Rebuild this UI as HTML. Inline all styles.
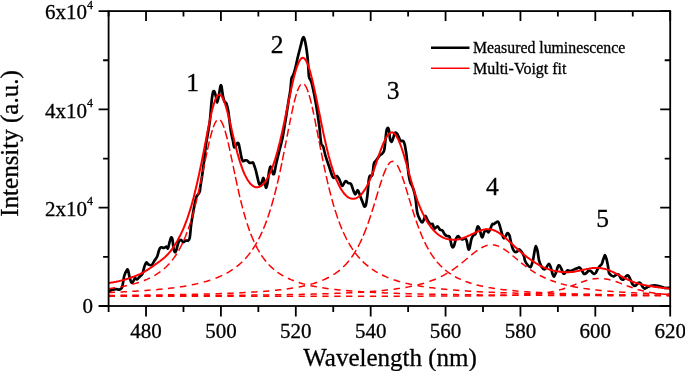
<!DOCTYPE html>
<html><head><meta charset="utf-8"><style>
html,body{margin:0;padding:0;background:#fff;}
svg{display:block;}
text{font-family:"Liberation Serif","Times New Roman",serif;fill:#000;stroke:#000;stroke-width:0.3px;}
.tl{font-size:21px;}
.sup{font-size:12px;}
.at{font-size:25px;}
.pk{font-size:25.5px;}
.lg{font-size:16px;}
</style></head><body>
<svg width="685" height="371" viewBox="0 0 685 371">
<rect width="685" height="371" fill="#fff"/>
<defs><clipPath id="c"><rect x="108.60" y="11.10" width="561.60" height="294.90"/></clipPath></defs>
<g clip-path="url(#c)">
<path d="M108.60,291.60 C108.83,291.47 109.35,291.10 110.00,290.80 C110.65,290.50 111.48,290.07 112.50,289.80 C113.52,289.53 114.93,289.23 116.10,289.20 C117.27,289.17 118.60,289.77 119.50,289.60 C120.40,289.43 120.98,288.90 121.50,288.20 C122.02,287.50 122.15,287.43 122.60,285.40 C123.05,283.37 123.48,278.57 124.20,276.00 C124.92,273.43 126.23,270.90 126.90,270.00 C127.57,269.10 127.75,269.38 128.20,270.60 C128.65,271.82 129.03,275.28 129.60,277.30 C130.17,279.32 130.93,282.13 131.60,282.70 C132.27,283.27 133.03,281.48 133.60,280.70 C134.17,279.92 134.43,278.22 135.00,278.00 C135.57,277.78 136.22,279.62 137.00,279.40 C137.78,279.18 138.80,277.60 139.70,276.70 C140.60,275.80 141.62,275.68 142.40,274.00 C143.18,272.32 143.73,268.52 144.40,266.60 C145.07,264.68 145.73,262.85 146.40,262.50 C147.07,262.15 147.50,264.08 148.40,264.50 C149.30,264.92 150.78,265.67 151.80,265.00 C152.82,264.33 153.60,261.92 154.50,260.50 C155.40,259.08 156.45,258.20 157.20,256.50 C157.95,254.80 158.42,251.82 159.00,250.30 C159.58,248.78 159.88,247.80 160.70,247.40 C161.52,247.00 162.97,248.02 163.90,247.90 C164.83,247.78 165.63,246.62 166.30,246.70 C166.97,246.78 167.35,249.15 167.90,248.40 C168.45,247.65 169.05,244.03 169.60,242.20 C170.15,240.37 170.72,237.80 171.20,237.40 C171.68,237.00 172.10,237.92 172.50,239.80 C172.90,241.68 173.23,246.68 173.60,248.70 C173.97,250.72 174.30,251.50 174.70,251.90 C175.10,252.30 175.37,252.72 176.00,251.10 C176.63,249.48 177.68,244.08 178.50,242.20 C179.32,240.32 180.10,239.80 180.90,239.80 C181.70,239.80 182.50,242.07 183.30,242.20 C184.10,242.33 184.88,240.87 185.70,240.60 C186.52,240.33 187.52,241.13 188.20,240.60 C188.88,240.07 189.32,240.00 189.80,237.40 C190.28,234.80 190.55,229.12 191.10,225.00 C191.65,220.88 192.43,216.53 193.10,212.70 C193.77,208.87 194.53,204.68 195.10,202.00 C195.67,199.32 195.93,197.95 196.50,196.60 C197.07,195.25 197.95,194.80 198.50,193.90 C199.05,193.00 199.47,192.55 199.80,191.20 C200.13,189.85 200.20,187.83 200.50,185.80 C200.80,183.77 201.20,181.60 201.60,179.00 C202.00,176.40 202.37,174.18 202.90,170.20 C203.43,166.22 204.27,159.50 204.80,155.10 C205.33,150.70 205.28,149.28 206.10,143.80 C206.92,138.32 208.78,129.27 209.70,122.20 C210.62,115.13 211.03,106.43 211.60,101.40 C212.17,96.37 212.60,93.57 213.10,92.00 C213.60,90.43 214.13,91.22 214.60,92.00 C215.07,92.78 215.47,94.97 215.90,96.70 C216.33,98.43 216.72,102.55 217.20,102.40 C217.68,102.25 218.27,98.47 218.80,95.80 C219.33,93.13 219.95,87.97 220.40,86.40 C220.85,84.83 221.08,84.83 221.50,86.40 C221.92,87.97 222.42,93.30 222.90,95.80 C223.38,98.30 223.83,100.15 224.40,101.40 C224.97,102.65 225.67,101.73 226.30,103.30 C226.93,104.87 227.45,106.22 228.20,110.80 C228.95,115.38 230.03,125.90 230.80,130.80 C231.57,135.70 232.25,137.50 232.80,140.20 C233.35,142.90 233.65,145.98 234.10,147.00 C234.55,148.02 234.93,146.98 235.50,146.30 C236.07,145.62 236.95,143.23 237.50,142.90 C238.05,142.57 238.35,142.95 238.80,144.30 C239.25,145.65 239.75,148.77 240.20,151.00 C240.65,153.23 241.05,156.02 241.50,157.70 C241.95,159.38 242.33,160.65 242.90,161.10 C243.47,161.55 244.23,160.52 244.90,160.40 C245.57,160.28 246.22,160.05 246.90,160.40 C247.58,160.75 248.32,162.08 249.00,162.50 C249.68,162.92 250.33,162.90 251.00,162.90 C251.67,162.90 252.45,162.02 253.00,162.50 C253.55,162.98 253.85,164.55 254.30,165.80 C254.75,167.05 255.12,167.83 255.70,170.00 C256.28,172.17 257.18,176.38 257.80,178.80 C258.42,181.22 258.73,183.95 259.40,184.50 C260.07,185.05 261.12,183.18 261.80,182.10 C262.48,181.02 262.95,177.60 263.50,178.00 C264.05,178.40 264.65,182.88 265.10,184.50 C265.55,186.12 265.80,187.97 266.20,187.70 C266.60,187.43 267.02,185.58 267.50,182.90 C267.98,180.22 268.62,174.30 269.10,171.60 C269.58,168.90 269.98,167.12 270.40,166.70 C270.82,166.28 271.13,167.88 271.60,169.10 C272.07,170.32 272.72,173.45 273.20,174.00 C273.68,174.55 273.97,174.28 274.50,172.40 C275.03,170.52 275.68,165.95 276.40,162.70 C277.12,159.45 277.98,156.15 278.80,152.90 C279.62,149.65 280.58,146.18 281.30,143.20 C282.02,140.22 282.40,138.78 283.10,135.00 C283.80,131.22 284.55,126.43 285.50,120.50 C286.45,114.57 287.98,104.48 288.80,99.40 C289.62,94.32 289.95,93.48 290.40,90.00 C290.85,86.52 291.05,80.95 291.50,78.50 C291.95,76.05 292.48,76.92 293.10,75.30 C293.72,73.68 294.43,71.77 295.20,68.80 C295.97,65.83 296.80,61.27 297.70,57.50 C298.60,53.73 299.82,49.28 300.60,46.20 C301.38,43.12 301.92,40.50 302.40,39.00 C302.88,37.50 303.13,37.15 303.50,37.20 C303.87,37.25 304.18,37.83 304.60,39.30 C305.02,40.77 305.53,43.23 306.00,46.00 C306.47,48.77 307.03,52.63 307.40,55.90 C307.77,59.17 307.93,62.10 308.20,65.60 C308.47,69.10 308.60,74.47 309.00,76.90 C309.40,79.33 310.07,78.85 310.60,80.20 C311.13,81.55 311.27,80.83 312.20,85.00 C313.13,89.17 315.03,98.47 316.20,105.20 C317.37,111.93 318.37,119.00 319.20,125.40 C320.03,131.80 320.53,140.07 321.20,143.60 C321.87,147.13 322.48,144.57 323.20,146.60 C323.92,148.63 324.48,152.38 325.50,155.80 C326.52,159.22 328.03,163.48 329.30,167.10 C330.57,170.72 331.83,176.00 333.10,177.50 C334.37,179.00 335.80,175.63 336.90,176.10 C338.00,176.57 338.82,178.67 339.70,180.30 C340.58,181.93 341.25,185.75 342.20,185.90 C343.15,186.05 344.40,181.67 345.40,181.20 C346.40,180.73 347.27,182.62 348.20,183.10 C349.13,183.58 350.07,182.68 351.00,184.10 C351.93,185.52 353.07,189.90 353.80,191.60 C354.53,193.30 354.73,194.53 355.40,194.30 C356.07,194.07 357.00,189.93 357.80,190.20 C358.60,190.47 359.38,193.87 360.20,195.90 C361.02,197.93 362.02,200.65 362.70,202.40 C363.38,204.15 363.77,206.00 364.30,206.40 C364.83,206.80 365.37,206.82 365.90,204.80 C366.43,202.78 367.02,198.48 367.50,194.30 C367.98,190.12 368.40,182.80 368.80,179.70 C369.20,176.60 369.30,176.50 369.90,175.70 C370.50,174.90 371.73,176.93 372.40,174.90 C373.07,172.87 373.25,165.93 373.90,163.50 C374.55,161.07 375.35,161.63 376.30,160.30 C377.25,158.97 378.65,156.58 379.60,155.50 C380.55,154.42 381.25,154.62 382.00,153.80 C382.75,152.98 383.57,152.48 384.10,150.60 C384.63,148.72 384.82,145.73 385.20,142.50 C385.58,139.27 385.98,133.62 386.40,131.20 C386.82,128.78 387.27,128.13 387.70,128.00 C388.13,127.87 388.60,128.52 389.00,130.40 C389.40,132.28 389.65,137.42 390.10,139.30 C390.55,141.18 391.17,141.97 391.70,141.70 C392.23,141.43 392.77,139.18 393.30,137.70 C393.83,136.22 394.28,133.48 394.90,132.80 C395.52,132.12 396.32,132.78 397.00,133.60 C397.68,134.42 398.40,136.48 399.00,137.70 C399.60,138.92 399.93,140.37 400.60,140.90 C401.27,141.43 402.33,140.37 403.00,140.90 C403.67,141.43 404.05,141.95 404.60,144.10 C405.15,146.25 405.83,150.57 406.30,153.80 C406.77,157.03 407.00,159.97 407.40,163.50 C407.80,167.03 408.22,171.85 408.70,175.00 C409.18,178.15 409.63,180.37 410.30,182.40 C410.97,184.43 412.00,185.43 412.70,187.20 C413.40,188.97 414.00,190.92 414.50,193.00 C415.00,195.08 415.23,196.42 415.70,199.70 C416.17,202.98 416.63,209.47 417.30,212.70 C417.97,215.93 418.90,217.48 419.70,219.10 C420.50,220.72 421.42,222.27 422.10,222.40 C422.78,222.53 423.25,220.98 423.80,219.90 C424.35,218.82 424.73,215.77 425.40,215.90 C426.07,216.03 427.00,219.35 427.80,220.70 C428.60,222.05 429.38,223.45 430.20,224.00 C431.02,224.55 432.02,223.20 432.70,224.00 C433.38,224.80 433.50,228.40 434.30,228.80 C435.10,229.20 436.57,226.27 437.50,226.40 C438.43,226.53 439.08,228.92 439.90,229.60 C440.72,230.28 441.58,229.68 442.40,230.50 C443.22,231.32 444.00,233.57 444.80,234.50 C445.60,235.43 446.40,235.70 447.20,236.10 C448.00,236.50 448.85,235.28 449.60,236.90 C450.35,238.52 451.02,244.18 451.70,245.80 C452.38,247.42 452.97,247.82 453.70,246.60 C454.43,245.38 455.35,240.25 456.10,238.50 C456.85,236.75 457.52,236.10 458.20,236.10 C458.88,236.10 459.47,237.95 460.20,238.50 C460.93,239.05 461.80,239.43 462.60,239.40 C463.40,239.37 464.33,238.12 465.00,238.30 C465.67,238.48 466.07,238.80 466.60,240.50 C467.13,242.20 467.72,247.17 468.20,248.50 C468.68,249.83 468.95,250.12 469.50,248.50 C470.05,246.88 470.77,241.08 471.50,238.80 C472.23,236.52 473.23,235.60 473.90,234.80 C474.57,234.00 474.88,235.35 475.50,234.00 C476.12,232.65 476.92,227.52 477.60,226.70 C478.28,225.88 479.00,227.62 479.60,229.10 C480.20,230.58 480.72,234.25 481.20,235.60 C481.68,236.95 482.02,237.73 482.50,237.20 C482.98,236.67 483.52,233.62 484.10,232.40 C484.68,231.18 485.27,229.90 486.00,229.90 C486.73,229.90 487.73,232.67 488.50,232.40 C489.27,232.13 489.98,229.65 490.60,228.30 C491.22,226.95 491.62,225.02 492.20,224.30 C492.78,223.58 493.52,224.27 494.10,224.00 C494.68,223.73 495.02,223.07 495.70,222.70 C496.38,222.33 497.52,221.27 498.20,221.80 C498.88,222.33 499.27,224.27 499.80,225.90 C500.33,227.53 500.78,229.58 501.40,231.60 C502.02,233.62 502.82,237.20 503.50,238.00 C504.18,238.80 504.85,237.20 505.50,236.40 C506.15,235.60 506.73,233.33 507.40,233.20 C508.07,233.07 508.88,233.98 509.50,235.60 C510.12,237.22 510.57,240.75 511.10,242.90 C511.63,245.05 512.15,247.07 512.70,248.50 C513.25,249.93 513.72,250.95 514.40,251.50 C515.08,252.05 516.00,252.15 516.80,251.80 C517.60,251.45 518.40,249.40 519.20,249.40 C520.00,249.40 520.78,250.60 521.60,251.80 C522.42,253.00 523.55,255.13 524.10,256.60 C524.65,258.07 524.37,259.27 524.90,260.60 C525.43,261.93 526.37,263.52 527.30,264.60 C528.23,265.68 529.57,267.77 530.50,267.10 C531.43,266.43 532.22,263.30 532.90,260.60 C533.58,257.90 534.10,253.33 534.60,250.90 C535.10,248.47 535.42,246.00 535.90,246.00 C536.38,246.00 536.97,248.47 537.50,250.90 C538.03,253.33 538.38,257.90 539.10,260.60 C539.82,263.30 540.93,265.62 541.80,267.10 C542.67,268.58 543.48,269.50 544.30,269.50 C545.12,269.50 545.95,268.05 546.70,267.10 C547.45,266.15 548.13,263.80 548.80,263.80 C549.47,263.80 550.10,265.48 550.70,267.10 C551.30,268.72 551.85,271.88 552.40,273.50 C552.95,275.12 553.42,276.93 554.00,276.80 C554.58,276.67 555.23,274.45 555.90,272.70 C556.57,270.95 557.38,267.50 558.00,266.30 C558.62,265.10 559.05,265.10 559.60,265.50 C560.15,265.90 560.67,267.37 561.30,268.70 C561.93,270.03 562.73,272.83 563.40,273.50 C564.07,274.17 564.58,273.23 565.30,272.70 C566.02,272.17 566.88,270.57 567.70,270.30 C568.52,270.03 569.38,271.10 570.20,271.10 C571.02,271.10 571.67,270.70 572.60,270.30 C573.53,269.90 575.00,269.05 575.80,268.70 C576.60,268.35 576.78,268.42 577.40,268.20 C578.02,267.98 578.82,267.13 579.50,267.40 C580.18,267.67 580.77,268.73 581.50,269.80 C582.23,270.87 583.10,273.27 583.90,273.80 C584.70,274.33 585.48,273.53 586.30,273.00 C587.12,272.47 587.98,270.87 588.80,270.60 C589.62,270.33 590.40,270.87 591.20,271.40 C592.00,271.93 592.85,273.53 593.60,273.80 C594.35,274.07 595.02,273.80 595.70,273.00 C596.38,272.20 596.97,270.22 597.70,269.00 C598.43,267.78 599.43,266.52 600.10,265.70 C600.77,264.88 601.17,265.17 601.70,264.10 C602.23,263.03 602.77,260.78 603.30,259.30 C603.83,257.82 604.35,255.20 604.90,255.20 C605.45,255.20 606.05,257.27 606.60,259.30 C607.15,261.33 607.80,265.12 608.20,267.40 C608.60,269.68 608.47,271.65 609.00,273.00 C609.53,274.35 610.60,274.95 611.40,275.50 C612.20,276.05 612.98,276.45 613.80,276.30 C614.62,276.15 615.48,274.88 616.30,274.60 C617.12,274.32 617.90,273.92 618.70,274.60 C619.50,275.28 620.30,277.88 621.10,278.70 C621.90,279.52 622.68,279.90 623.50,279.50 C624.32,279.10 625.23,276.97 626.00,276.30 C626.77,275.63 627.43,275.10 628.10,275.50 C628.77,275.90 629.25,277.22 630.00,278.70 C630.75,280.18 631.70,283.22 632.60,284.40 C633.50,285.58 634.47,286.03 635.40,285.80 C636.33,285.57 637.38,283.47 638.20,283.00 C639.02,282.53 639.60,282.42 640.30,283.00 C641.00,283.58 641.70,285.57 642.40,286.50 C643.10,287.43 643.68,288.48 644.50,288.60 C645.32,288.72 646.23,287.67 647.30,287.20 C648.37,286.73 649.72,286.12 650.90,285.80 C652.08,285.48 653.23,285.30 654.40,285.30 C655.57,285.30 656.73,285.57 657.90,285.80 C659.07,286.03 660.23,286.35 661.40,286.70 C662.57,287.05 663.62,287.70 664.90,287.90 C666.18,288.10 668.17,287.88 669.10,287.90 C670.03,287.92 670.27,287.98 670.50,288.00" fill="none" stroke="#000" stroke-width="2.7" stroke-linejoin="round" stroke-linecap="round"/>
<path d="M108.60,288.72L108.79,288.70L110.29,288.49L111.78,288.28L113.28,288.06L114.78,287.83L115.15,287.77M120.58,286.85L120.77,286.82L122.27,286.54L123.77,286.24L125.27,285.93L126.76,285.61L126.95,285.57M132.38,284.26L132.57,284.21L134.07,283.81L135.57,283.38L137.06,282.94L138.56,282.47L138.94,282.35M143.81,280.62L143.99,280.55L145.49,279.95L146.99,279.32L148.49,278.65L149.98,277.95M154.29,275.67L154.48,275.57L155.98,274.67L157.48,273.72L158.97,272.71L160.47,271.64M163.84,268.95L164.03,268.79L165.53,267.45L167.03,266.01L168.52,264.47L169.46,263.46M172.08,260.36L172.27,260.12L173.77,258.15L175.27,256.03L176.76,253.74M178.64,250.64L178.82,250.31L180.32,247.58L181.82,244.63L182.57,243.07M183.88,240.20L184.07,239.77L185.56,236.20L187.06,232.35M188.19,229.27L188.37,228.74L189.87,224.31L190.81,221.38M191.74,218.31L191.93,217.68L193.43,212.44L194.18,209.68M194.93,206.84L195.12,206.12L196.61,200.12L196.99,198.57M197.74,195.41L197.92,194.60L199.42,187.99L199.61,187.15M200.36,183.72L200.55,182.85L202.04,175.81M202.79,172.22L202.98,171.32L204.48,164.08M205.04,161.36L205.23,160.46L206.73,153.31L206.91,152.43M207.47,149.82L207.66,148.96L209.16,142.29L209.35,141.49M210.10,138.38L210.28,137.63L211.78,132.00L212.34,130.10M213.28,127.22L213.47,126.69L214.97,123.06L216.46,120.59L216.65,120.37M220.21,120.00L220.40,120.19L221.89,122.37L223.39,125.75L224.14,127.84M225.08,130.80L225.26,131.44L226.76,136.98L227.32,139.24M228.07,142.39L228.26,143.20L229.76,149.93L229.95,150.80M230.70,154.31L230.88,155.20L232.38,162.38M233.13,166.01L233.32,166.91L234.81,174.13M235.38,176.81L235.56,177.70L237.06,184.69L237.25,185.55M238.00,188.94L238.19,189.78L239.68,196.31L239.87,197.10M240.62,200.22L240.81,200.99L242.31,206.93L242.68,208.36M243.62,211.84L243.80,212.52L245.30,217.76L245.86,219.63M246.99,223.23L247.17,223.81L248.67,228.27L249.61,230.90M250.73,233.89L250.92,234.37L252.42,238.08L253.92,241.50L254.10,241.92M255.60,245.06L255.79,245.44L257.29,248.33L258.78,251.00L259.53,252.27M261.41,255.23L261.59,255.51L263.09,257.67L264.59,259.67L266.09,261.54M268.71,264.50L268.90,264.70L270.39,266.22L271.89,267.64L273.39,268.97L274.14,269.60M277.51,272.20L277.70,272.34L279.20,273.37L280.69,274.34L282.19,275.25L283.32,275.90M287.81,278.23L288.00,278.32L289.50,279.00L290.99,279.65L292.49,280.26L293.80,280.77M298.67,282.48L298.86,282.54L300.36,283.00L301.85,283.44L303.35,283.87L304.85,284.27L305.04,284.32M310.47,285.62L310.66,285.66L312.15,285.98L313.65,286.28L315.15,286.58L316.65,286.86L316.84,286.89M322.27,287.81L322.45,287.84L323.95,288.07L325.45,288.28L326.95,288.50L328.45,288.70L328.63,288.72M334.25,289.41L334.44,289.44L335.94,289.60L337.43,289.77L338.93,289.92L340.43,290.07L340.62,290.09M346.05,290.59L346.24,290.61L347.73,290.74L349.23,290.86L350.73,290.98L352.23,291.09L352.42,291.11M358.03,291.50L358.22,291.52L359.72,291.62L361.22,291.71L362.72,291.80L364.21,291.89M369.83,292.21L370.02,292.22L371.52,292.29L373.01,292.37L374.51,292.44L376.01,292.51L376.20,292.52M381.63,292.76L381.82,292.77L383.31,292.83L384.81,292.89L386.31,292.95L387.81,293.01L388.00,293.02M393.61,293.22L393.80,293.23L395.30,293.28L396.80,293.33L398.29,293.38L399.79,293.42L399.98,293.43M405.41,293.59L405.60,293.59L407.10,293.64L408.59,293.68L410.09,293.72L411.59,293.76L411.78,293.76M417.40,293.90L417.58,293.90L419.08,293.94L420.58,293.97L422.08,294.01L423.58,294.04M429.19,294.15L429.38,294.16L430.88,294.19L432.38,294.22L433.87,294.25L435.37,294.27L435.56,294.28M440.99,294.37L441.18,294.37L442.68,294.40L444.17,294.42L445.67,294.45L447.17,294.47L447.36,294.48M452.98,294.56L453.16,294.56L454.66,294.58L456.16,294.60L457.66,294.63L459.16,294.65M464.77,294.72L464.96,294.72L466.46,294.74L467.96,294.76L469.45,294.78L470.95,294.79L471.14,294.80M476.57,294.86L476.76,294.86L478.26,294.87L479.75,294.89L481.25,294.91L482.75,294.92L482.94,294.92M488.56,294.98L488.74,294.98L490.24,294.99L491.74,295.01L493.24,295.02L494.74,295.04L494.92,295.04M500.35,295.08L500.54,295.09L502.04,295.10L503.54,295.11L505.03,295.12L506.53,295.13L506.72,295.14M512.34,295.18L512.53,295.18L514.02,295.19L515.52,295.20L517.02,295.21L518.52,295.22M524.14,295.26L524.32,295.26L525.82,295.27L527.32,295.28L528.82,295.29L530.31,295.30L530.50,295.30M535.93,295.34L536.12,295.34L537.62,295.34L539.12,295.35L540.61,295.36L542.11,295.37L542.30,295.37M547.92,295.40L548.10,295.40L549.60,295.41L551.10,295.42L552.60,295.43L554.10,295.43L554.28,295.43M559.72,295.46L559.90,295.46L561.40,295.47L562.90,295.48L564.40,295.48L565.89,295.49L566.08,295.49M571.70,295.51L571.89,295.52L573.39,295.52L574.88,295.53L576.38,295.53L577.88,295.54M583.50,295.56L583.68,295.56L585.18,295.57L586.68,295.58L588.18,295.58L589.68,295.59L589.86,295.59M595.30,295.61L595.48,295.61L596.98,295.61L598.48,295.62L599.98,295.62L601.47,295.63L601.66,295.63M607.28,295.65L607.47,295.65L608.97,295.65L610.46,295.66L611.96,295.66L613.46,295.67M619.08,295.68L619.26,295.68L620.76,295.69L622.26,295.69L623.76,295.70L625.26,295.70L625.44,295.70M631.06,295.72L631.25,295.72L632.75,295.72L634.25,295.73L635.74,295.73L637.24,295.73M642.86,295.75L643.05,295.75L644.55,295.75L646.04,295.76L647.54,295.76L649.04,295.76L649.23,295.76M654.66,295.78L654.84,295.78L656.34,295.78L657.84,295.78L659.34,295.79L660.84,295.79L661.02,295.79M666.64,295.80L666.83,295.80L668.33,295.81L669.83,295.81L670.20,295.81" fill="none" stroke="#f00" stroke-width="1.5"/>
<path d="M108.60,292.51L108.79,292.50L110.29,292.44L111.78,292.38L113.28,292.31L114.78,292.25L114.97,292.24M120.58,291.99L120.77,291.98L122.27,291.90L123.77,291.83L125.27,291.75L126.76,291.68L126.95,291.67M132.38,291.36L132.57,291.35L134.07,291.27L135.57,291.18L137.06,291.08L138.56,290.99L138.75,290.97M144.37,290.59L144.55,290.58L146.05,290.47L147.55,290.36L149.05,290.24L150.55,290.12M156.16,289.65L156.35,289.63L157.85,289.49L159.35,289.35L160.85,289.21L162.34,289.06L162.53,289.04M167.96,288.45L168.15,288.43L169.65,288.26L171.15,288.08L172.64,287.89L174.14,287.70L174.33,287.68M179.95,286.89L180.13,286.86L181.63,286.64L183.13,286.40L184.63,286.16L186.13,285.90L186.31,285.87M191.74,284.87L191.93,284.83L193.43,284.53L194.93,284.22L196.43,283.89L197.92,283.55L198.30,283.46M203.73,282.09L203.92,282.04L205.41,281.63L206.91,281.19L208.41,280.74L209.91,280.26L210.28,280.14M215.53,278.29L215.71,278.22L217.21,277.63L218.71,277.01L220.21,276.36L221.71,275.68L222.27,275.42M226.58,273.23L226.76,273.13L228.26,272.28L229.76,271.40L231.26,270.46L232.75,269.47M236.50,266.75L236.69,266.61L238.19,265.40L239.68,264.13L241.18,262.78L242.31,261.71M245.11,258.83L245.30,258.63L246.80,256.94L248.30,255.15L249.80,253.24L250.36,252.49M252.42,249.60L252.60,249.32L254.10,247.03L255.60,244.59L256.91,242.32M258.60,239.21L258.78,238.84L260.28,235.85L261.78,232.64L262.16,231.81M263.47,228.78L263.65,228.33L265.15,224.61L266.65,220.63M267.77,217.47L267.96,216.92L269.46,212.42L270.39,209.46M271.33,206.37L271.52,205.74L273.02,200.51L273.77,197.77M274.51,194.94L274.70,194.22L276.20,188.28L276.57,186.74M277.32,183.61L277.51,182.81L279.01,176.25L279.20,175.41M279.95,171.99L280.13,171.12L281.63,164.03L281.82,163.12M282.38,160.38L282.57,159.46L284.06,151.97M284.81,148.16L285.00,147.21L286.31,140.46M287.06,136.59L287.25,135.62L288.56,128.87M289.31,125.05L289.50,124.11L290.81,117.59M291.56,113.98L291.74,113.09L293.24,106.27L293.43,105.46M294.18,102.31L294.36,101.55L295.86,95.91L296.42,94.02M297.36,91.16L297.55,90.64L299.05,87.07L300.54,84.67L300.73,84.46M304.29,84.22L304.48,84.41L305.97,86.62L307.47,90.02L308.22,92.13M309.16,95.12L309.35,95.76L310.84,101.38L311.41,103.68M312.15,106.90L312.34,107.73L313.84,114.66M314.59,118.29L314.78,119.21L316.27,126.73M316.84,129.61L317.02,130.57L318.52,138.30M319.08,141.20L319.27,142.17L320.77,149.85M321.33,152.70L321.52,153.64L323.02,161.08M323.76,164.72L323.95,165.62L325.45,172.65M326.20,176.05L326.39,176.89L327.88,183.42L328.07,184.21M328.82,187.34L329.01,188.10L330.51,194.05L330.88,195.49M331.82,198.99L332.00,199.67L333.50,204.96L334.06,206.85M335.00,209.92L335.19,210.52L336.69,215.14L337.81,218.41M338.93,221.53L339.12,222.03L340.62,225.92L341.93,229.12M343.24,232.13L343.43,232.55L344.93,235.76L346.42,238.76L346.99,239.84M348.67,242.91L348.86,243.24L350.36,245.76L351.85,248.13L352.98,249.81M355.04,252.68L355.22,252.93L356.72,254.86L358.22,256.67L359.72,258.37L359.91,258.58M362.72,261.49L362.90,261.67L364.40,263.08L365.90,264.41L367.40,265.67L368.33,266.43M371.89,269.06L372.08,269.19L373.58,270.19L375.07,271.14L376.57,272.04L377.70,272.69M382.00,274.95L382.19,275.04L383.69,275.75L385.19,276.43L386.68,277.07L388.18,277.69L388.37,277.76M393.61,279.69L393.80,279.76L395.30,280.25L396.80,280.72L398.29,281.18L399.79,281.61L400.17,281.72M405.41,283.09L405.60,283.14L407.10,283.49L408.59,283.84L410.09,284.17L411.59,284.48L411.97,284.56M417.40,285.60L417.58,285.63L419.08,285.90L420.58,286.15L422.08,286.39L423.58,286.63L423.76,286.66M429.19,287.45L429.38,287.47L430.88,287.67L432.38,287.86L433.87,288.05L435.37,288.23L435.56,288.25M440.99,288.86L441.18,288.88L442.68,289.03L444.17,289.18L445.67,289.33L447.17,289.47L447.36,289.49M452.98,289.98L453.16,290.00L454.66,290.12L456.16,290.24L457.66,290.35L459.16,290.47L459.34,290.48M464.77,290.86L464.96,290.87L466.46,290.97L467.96,291.07L469.45,291.16L470.95,291.25L471.14,291.26M476.57,291.57L476.76,291.58L478.26,291.66L479.75,291.74L481.25,291.82L482.75,291.89L482.94,291.90M488.56,292.17L488.74,292.17L490.24,292.24L491.74,292.30L493.24,292.37L494.74,292.43L494.92,292.44M500.35,292.65L500.54,292.66L502.04,292.71L503.54,292.76L505.03,292.82L506.53,292.87L506.72,292.88M512.34,293.06L512.53,293.07L514.02,293.11L515.52,293.16L517.02,293.20L518.52,293.25M524.14,293.40L524.32,293.41L525.82,293.45L527.32,293.49L528.82,293.52L530.31,293.56L530.50,293.57M535.93,293.70L536.12,293.70L537.62,293.73L539.12,293.77L540.61,293.80L542.11,293.83L542.30,293.84M547.92,293.95L548.10,293.96L549.60,293.98L551.10,294.01L552.60,294.04L554.10,294.07L554.28,294.07M559.72,294.17L559.90,294.17L561.40,294.20L562.90,294.22L564.40,294.25L565.89,294.27L566.08,294.28M571.70,294.36L571.89,294.37L573.39,294.39L574.88,294.41L576.38,294.43L577.88,294.45M583.50,294.53L583.68,294.53L585.18,294.55L586.68,294.57L588.18,294.59L589.68,294.61L589.86,294.61M595.30,294.68L595.48,294.68L596.98,294.70L598.48,294.71L599.98,294.73L601.47,294.75L601.66,294.75M607.28,294.81L607.47,294.81L608.97,294.83L610.46,294.84L611.96,294.86L613.46,294.87M619.08,294.93L619.26,294.93L620.76,294.94L622.26,294.96L623.76,294.97L625.26,294.98L625.44,294.98M631.06,295.03L631.25,295.03L632.75,295.05L634.25,295.06L635.74,295.07L637.24,295.08M642.86,295.13L643.05,295.13L644.55,295.14L646.04,295.15L647.54,295.16L649.04,295.17L649.23,295.17M654.66,295.21L654.84,295.21L656.34,295.22L657.84,295.23L659.34,295.24L660.84,295.25L661.02,295.25M666.64,295.29L666.83,295.29L668.33,295.30L669.83,295.31L670.20,295.31" fill="none" stroke="#f00" stroke-width="1.5"/>
<path d="M108.60,295.47L108.79,295.47L110.29,295.46L111.78,295.45L113.28,295.44L114.78,295.42L114.97,295.42M120.58,295.37L120.77,295.37L122.27,295.36L123.77,295.35L125.27,295.33L126.76,295.32L126.95,295.32M132.38,295.26L132.57,295.26L134.07,295.25L135.57,295.23L137.06,295.22L138.56,295.20L138.75,295.20M144.37,295.14L144.55,295.13L146.05,295.12L147.55,295.10L149.05,295.08L150.55,295.06M156.16,294.99L156.35,294.99L157.85,294.97L159.35,294.95L160.85,294.93L162.34,294.90L162.53,294.90M167.96,294.82L168.15,294.82L169.65,294.79L171.15,294.77L172.64,294.75L174.14,294.72L174.33,294.72M179.95,294.62L180.13,294.62L181.63,294.59L183.13,294.56L184.63,294.53L186.13,294.50L186.31,294.50M191.74,294.39L191.93,294.38L193.43,294.35L194.93,294.32L196.43,294.28L197.92,294.25L198.11,294.24M203.73,294.10L203.92,294.10L205.41,294.06L206.91,294.02L208.41,293.98L209.91,293.94M215.53,293.77L215.71,293.76L217.21,293.72L218.71,293.67L220.21,293.62L221.71,293.57L221.89,293.56M227.32,293.36L227.51,293.36L229.01,293.30L230.51,293.24L232.01,293.18L233.50,293.12L233.69,293.11M239.31,292.85L239.50,292.85L240.99,292.77L242.49,292.70L243.99,292.62L245.49,292.54L245.68,292.53M251.11,292.23L251.29,292.21L252.79,292.12L254.29,292.03L255.79,291.93L257.29,291.83L257.47,291.82M263.09,291.41L263.28,291.40L264.78,291.28L266.27,291.16L267.77,291.03L269.27,290.90M274.89,290.37L275.08,290.35L276.57,290.19L278.07,290.03L279.57,289.87L281.07,289.69L281.26,289.67M286.69,288.98L286.87,288.95L288.37,288.75L289.87,288.53L291.37,288.30L292.87,288.06L293.05,288.03M298.67,287.05L298.86,287.01L300.36,286.72L301.85,286.41L303.35,286.09L304.85,285.75L305.04,285.71M310.47,284.35L310.66,284.29L312.15,283.87L313.65,283.43L315.15,282.96L316.65,282.47L317.21,282.28M322.27,280.37L322.45,280.30L323.95,279.66L325.45,278.98L326.95,278.27L328.45,277.52L329.01,277.22M333.50,274.61L333.69,274.49L335.19,273.51L336.69,272.46L338.18,271.34L339.68,270.15L339.87,269.99M343.24,266.99L343.43,266.81L344.93,265.31L346.42,263.71L347.92,262.00L349.04,260.64M351.48,257.44L351.67,257.18L353.16,255.00L354.66,252.67L356.16,250.18M358.03,246.81L358.22,246.46L359.72,243.52L361.22,240.39L361.97,238.75M363.28,235.74L363.46,235.30L364.96,231.63L366.46,227.74L366.65,227.24M367.96,223.63L368.15,223.10L369.64,218.75L370.77,215.36M371.89,211.87L372.08,211.28L373.58,206.47L374.51,203.41M375.45,200.31L375.64,199.69L377.13,194.69L378.07,191.58M379.19,187.89L379.38,187.28L380.88,182.52L381.82,179.66M382.94,176.38L383.13,175.86L384.62,171.90L386.12,168.44L386.31,168.05M388.00,164.97L388.18,164.68L389.68,162.77L391.18,161.64L392.68,161.31L393.43,161.45M397.17,165.13L397.36,165.44L398.86,168.26L400.35,171.69L400.73,172.63M402.04,176.14L402.23,176.67L403.73,181.10L404.66,184.01M405.60,187.01L405.79,187.61L407.28,192.54L408.03,195.03M408.97,198.15L409.16,198.78L410.65,203.74L411.40,206.19M412.34,209.22L412.53,209.82L414.03,214.53L414.96,217.38M416.08,220.70L416.27,221.25L417.77,225.48L418.89,228.51M420.02,231.41L420.20,231.89L421.70,235.54L423.20,238.97M424.70,242.20L424.89,242.58L426.38,245.58L427.88,248.37L428.44,249.38M430.13,252.23L430.32,252.53L431.81,254.87L433.31,257.06L434.62,258.85M436.87,261.68L437.06,261.90L438.56,263.62L440.05,265.22L441.55,266.73L442.11,267.27M445.11,269.92L445.30,270.08L446.80,271.27L448.29,272.39L449.79,273.45L450.92,274.20M454.85,276.56L455.04,276.67L456.53,277.47L458.03,278.23L459.53,278.94L460.84,279.54M465.52,281.44L465.71,281.51L467.21,282.05L468.71,282.56L470.20,283.05L471.51,283.46M476.57,284.87L476.76,284.92L478.26,285.29L479.75,285.65L481.25,285.99L482.75,286.31L483.12,286.39M488.56,287.44L488.74,287.48L490.24,287.74L491.74,287.99L493.24,288.23L494.74,288.46L494.92,288.49M500.35,289.24L500.54,289.27L502.04,289.46L503.54,289.64L505.03,289.81L506.53,289.98L506.72,290.00M512.34,290.58L512.53,290.60L514.02,290.74L515.52,290.88L517.02,291.01L518.52,291.13M524.14,291.57L524.32,291.59L525.82,291.70L527.32,291.80L528.82,291.90L530.31,292.00L530.50,292.01M535.93,292.34L536.12,292.35L537.62,292.44L539.12,292.52L540.61,292.60L542.11,292.68L542.30,292.69M547.92,292.95L548.10,292.96L549.60,293.03L551.10,293.10L552.60,293.16L554.10,293.22L554.28,293.23M559.72,293.44L559.90,293.44L561.40,293.50L562.90,293.55L564.40,293.60L565.89,293.65L566.08,293.66M571.70,293.84L571.89,293.84L573.39,293.89L574.88,293.93L576.38,293.97L577.88,294.01M583.50,294.16L583.68,294.16L585.18,294.20L586.68,294.24L588.18,294.27L589.68,294.31L589.86,294.31M595.30,294.43L595.48,294.43L596.98,294.46L598.48,294.49L599.98,294.52L601.47,294.55L601.66,294.56M607.28,294.66L607.47,294.66L608.97,294.69L610.46,294.71L611.96,294.74L613.46,294.76M619.08,294.85L619.26,294.85L620.76,294.88L622.26,294.90L623.76,294.92L625.26,294.94L625.44,294.94M631.06,295.02L631.25,295.02L632.75,295.04L634.25,295.06L635.74,295.08L637.24,295.09M642.86,295.16L643.05,295.16L644.55,295.18L646.04,295.19L647.54,295.21L649.04,295.23L649.23,295.23M654.66,295.28L654.84,295.29L656.34,295.30L657.84,295.31L659.34,295.33L660.84,295.34L661.02,295.34M666.64,295.39L666.83,295.39L668.33,295.41L669.83,295.42L670.20,295.42" fill="none" stroke="#f00" stroke-width="1.5"/>
<path d="M108.60,295.95L108.79,295.95L110.29,295.94L111.78,295.94L113.28,295.94L114.78,295.93L114.97,295.93M120.58,295.91L120.77,295.91L122.27,295.91L123.77,295.90L125.27,295.90L126.76,295.89L126.95,295.89M132.38,295.88L132.57,295.87L134.07,295.87L135.57,295.86L137.06,295.86L138.56,295.85L138.75,295.85M144.37,295.83L144.55,295.83L146.05,295.83L147.55,295.82L149.05,295.81L150.55,295.81M156.16,295.79L156.35,295.79L157.85,295.78L159.35,295.77L160.85,295.77L162.34,295.76L162.53,295.76M167.96,295.73L168.15,295.73L169.65,295.73L171.15,295.72L172.64,295.71L174.14,295.71L174.33,295.70M179.95,295.68L180.13,295.68L181.63,295.67L183.13,295.66L184.63,295.65L186.13,295.64L186.31,295.64M191.74,295.61L191.93,295.61L193.43,295.60L194.93,295.59L196.43,295.58L197.92,295.58L198.11,295.57M203.73,295.54L203.92,295.54L205.41,295.53L206.91,295.52L208.41,295.51L209.91,295.50M215.53,295.46L215.71,295.46L217.21,295.45L218.71,295.43L220.21,295.42L221.71,295.41L221.89,295.41M227.32,295.37L227.51,295.36L229.01,295.35L230.51,295.34L232.01,295.33L233.50,295.31L233.69,295.31M239.31,295.26L239.50,295.26L240.99,295.24L242.49,295.23L243.99,295.21L245.49,295.20M251.11,295.14L251.29,295.14L252.79,295.12L254.29,295.10L255.79,295.09L257.29,295.07L257.47,295.07M263.09,295.00L263.28,294.99L264.78,294.98L266.27,294.96L267.77,294.94L269.27,294.91M274.89,294.83L275.08,294.83L276.57,294.81L278.07,294.79L279.57,294.76L281.07,294.74L281.26,294.74M286.69,294.65L286.87,294.64L288.37,294.62L289.87,294.59L291.37,294.56L292.87,294.53L293.05,294.53M298.67,294.42L298.86,294.41L300.36,294.38L301.85,294.35L303.35,294.32L304.85,294.28M310.47,294.15L310.66,294.15L312.15,294.11L313.65,294.07L315.15,294.03L316.65,293.99L316.84,293.98M322.27,293.83L322.45,293.82L323.95,293.78L325.45,293.73L326.95,293.68L328.45,293.63L328.63,293.63M334.25,293.43L334.44,293.42L335.94,293.37L337.43,293.31L338.93,293.25L340.43,293.19L340.62,293.18M346.05,292.95L346.24,292.94L347.73,292.87L349.23,292.80L350.73,292.73L352.23,292.65L352.42,292.64M358.03,292.33L358.22,292.32L359.72,292.23L361.22,292.14L362.72,292.05L364.21,291.95M369.83,291.56L370.02,291.55L371.52,291.44L373.01,291.32L374.51,291.20L376.01,291.08L376.20,291.06M381.63,290.57L381.82,290.55L383.31,290.40L384.81,290.25L386.31,290.09L387.81,289.93L388.00,289.91M393.61,289.23L393.80,289.21L395.30,289.01L396.80,288.80L398.29,288.59L399.79,288.37L399.98,288.34M405.41,287.45L405.60,287.42L407.10,287.15L408.59,286.87L410.09,286.58L411.59,286.27L411.97,286.20M417.58,284.92L417.77,284.87L419.27,284.49L420.77,284.09L422.26,283.68L423.76,283.25L424.14,283.13M429.38,281.44L429.57,281.37L431.07,280.83L432.56,280.27L434.06,279.68L435.56,279.07L435.93,278.91M440.80,276.68L440.99,276.59L442.49,275.83L443.99,275.04L445.49,274.21L446.98,273.35L447.36,273.13M451.66,270.44L451.85,270.31L453.35,269.30L454.85,268.25L456.35,267.16L457.84,266.05L458.03,265.90M461.59,263.12L461.78,262.97L463.28,261.75L464.77,260.52L466.27,259.27L467.77,258.02M471.33,255.05L471.51,254.90L473.01,253.69L474.51,252.51L476.01,251.37L477.32,250.42M481.25,247.91L481.44,247.80L482.94,247.02L484.44,246.34L485.93,245.78L487.43,245.34L487.62,245.29M492.86,244.86L493.05,244.88L494.55,245.08L496.05,245.41L497.54,245.87L499.04,246.46M503.35,248.74L503.54,248.86L505.03,249.84L506.53,250.89L508.03,252.01L509.15,252.87M512.53,255.59L512.71,255.75L514.21,257.00L515.71,258.25L517.21,259.50L517.96,260.13M521.14,262.74L521.33,262.90L522.82,264.09L524.32,265.26L525.82,266.40L526.57,266.96M530.13,269.49L530.31,269.62L531.81,270.62L533.31,271.59L534.81,272.52L535.75,273.08M539.87,275.39L540.05,275.49L541.55,276.26L543.05,277.00L544.55,277.70L545.67,278.21M550.16,280.09L550.35,280.16L551.85,280.73L553.35,281.27L554.85,281.79L555.97,282.17M560.84,283.65L561.03,283.71L562.52,284.12L564.02,284.51L565.52,284.89L566.83,285.21M571.89,286.33L572.07,286.37L573.57,286.67L575.07,286.96L576.57,287.24L578.07,287.50M583.50,288.38L583.68,288.41L585.18,288.63L586.68,288.84L588.18,289.05L589.68,289.24L589.86,289.27M595.30,289.92L595.48,289.94L596.98,290.10L598.48,290.26L599.98,290.41L601.47,290.56L601.66,290.58M607.28,291.08L607.47,291.10L608.97,291.22L610.46,291.34L611.96,291.46L613.46,291.57L613.65,291.58M619.08,291.96L619.26,291.97L620.76,292.07L622.26,292.16L623.76,292.25L625.26,292.34L625.44,292.35M631.06,292.65L631.25,292.66L632.75,292.74L634.25,292.81L635.74,292.88L637.24,292.95M642.86,293.20L643.05,293.20L644.55,293.26L646.04,293.32L647.54,293.38L649.04,293.44L649.23,293.44M654.66,293.63L654.84,293.64L656.34,293.69L657.84,293.73L659.34,293.78L660.84,293.83L661.02,293.83M666.64,293.99L666.83,294.00L668.33,294.04L669.83,294.08L670.20,294.09" fill="none" stroke="#f00" stroke-width="1.5"/>
<path d="M108.60,296.32L108.79,296.32L110.29,296.32L111.78,296.32L113.28,296.32L114.78,296.32L114.97,296.32M120.58,296.32L120.77,296.32L122.27,296.32L123.77,296.32L125.27,296.32L126.76,296.32L126.95,296.32M132.38,296.32L132.57,296.32L134.07,296.32L135.57,296.32L137.06,296.32L138.56,296.32L138.75,296.32M144.37,296.32L144.55,296.32L146.05,296.32L147.55,296.32L149.05,296.32L150.55,296.32M156.16,296.32L156.35,296.32L157.85,296.32L159.35,296.32L160.85,296.32L162.34,296.32L162.53,296.32M167.96,296.32L168.15,296.32L169.65,296.32L171.15,296.31L172.64,296.31L174.14,296.31L174.33,296.31M179.95,296.31L180.13,296.31L181.63,296.31L183.13,296.31L184.63,296.31L186.13,296.31L186.31,296.31M191.74,296.31L191.93,296.31L193.43,296.31L194.93,296.31L196.43,296.31L197.92,296.31L198.11,296.31M203.73,296.31L203.92,296.31L205.41,296.31L206.91,296.31L208.41,296.31L209.91,296.31M215.53,296.31L215.71,296.31L217.21,296.31L218.71,296.30L220.21,296.30L221.71,296.30L221.89,296.30M227.32,296.30L227.51,296.30L229.01,296.30L230.51,296.30L232.01,296.30L233.50,296.30L233.69,296.30M239.31,296.30L239.50,296.30L240.99,296.30L242.49,296.30L243.99,296.30L245.49,296.30M251.11,296.30L251.29,296.30L252.79,296.30L254.29,296.29L255.79,296.29L257.29,296.29L257.47,296.29M263.09,296.29L263.28,296.29L264.78,296.29L266.27,296.29L267.77,296.29L269.27,296.29M274.89,296.29L275.08,296.29L276.57,296.29L278.07,296.29L279.57,296.29L281.07,296.28L281.26,296.28M286.69,296.28L286.87,296.28L288.37,296.28L289.87,296.28L291.37,296.28L292.87,296.28L293.05,296.28M298.67,296.28L298.86,296.28L300.36,296.28L301.85,296.27L303.35,296.27L304.85,296.27M310.47,296.27L310.66,296.27L312.15,296.27L313.65,296.27L315.15,296.27L316.65,296.27L316.84,296.27M322.27,296.26L322.45,296.26L323.95,296.26L325.45,296.26L326.95,296.26L328.45,296.26L328.63,296.26M334.25,296.25L334.44,296.25L335.94,296.25L337.43,296.25L338.93,296.25L340.43,296.25L340.62,296.25M346.05,296.25L346.24,296.24L347.73,296.24L349.23,296.24L350.73,296.24L352.23,296.24L352.42,296.24M358.03,296.23L358.22,296.23L359.72,296.23L361.22,296.23L362.72,296.23L364.21,296.23M369.83,296.22L370.02,296.22L371.52,296.22L373.01,296.22L374.51,296.22L376.01,296.21L376.20,296.21M381.63,296.21L381.82,296.21L383.31,296.20L384.81,296.20L386.31,296.20L387.81,296.20L388.00,296.20M393.61,296.19L393.80,296.19L395.30,296.19L396.80,296.18L398.29,296.18L399.79,296.18M405.41,296.17L405.60,296.17L407.10,296.16L408.59,296.16L410.09,296.16L411.59,296.16L411.78,296.15M417.40,296.14L417.58,296.14L419.08,296.14L420.58,296.13L422.08,296.13L423.58,296.13M429.19,296.11L429.38,296.11L430.88,296.11L432.38,296.10L433.87,296.10L435.37,296.09L435.56,296.09M440.99,296.07L441.18,296.07L442.68,296.07L444.17,296.06L445.67,296.05L447.17,296.05L447.36,296.05M452.98,296.02L453.16,296.02L454.66,296.01L456.16,296.01L457.66,296.00L459.16,295.99M464.77,295.96L464.96,295.96L466.46,295.95L467.96,295.94L469.45,295.93L470.95,295.92L471.14,295.92M476.57,295.87L476.76,295.87L478.26,295.86L479.75,295.84L481.25,295.83L482.75,295.82L482.94,295.81M488.56,295.75L488.74,295.75L490.24,295.73L491.74,295.71L493.24,295.69L494.74,295.67L494.92,295.67M500.35,295.58L500.54,295.58L502.04,295.55L503.54,295.52L505.03,295.49L506.53,295.46L506.72,295.46M512.34,295.32L512.53,295.31L514.02,295.27L515.52,295.22L517.02,295.17L518.52,295.12M524.14,294.88L524.32,294.87L525.82,294.79L527.32,294.71L528.82,294.62L530.31,294.53M535.75,294.10L535.93,294.09L537.43,293.95L538.93,293.79L540.43,293.63L541.93,293.45L542.11,293.42M547.54,292.63L547.73,292.60L549.23,292.33L550.73,292.05L552.22,291.75L553.72,291.42M558.97,290.11L559.15,290.06L560.65,289.63L562.15,289.18L563.65,288.71L565.15,288.21M570.20,286.42L570.39,286.35L571.89,285.79L573.39,285.22L574.88,284.65L576.38,284.07M581.06,282.33L581.25,282.26L582.75,281.74L584.25,281.24L585.74,280.77L587.24,280.33M592.49,279.12L592.67,279.09L594.17,278.86L595.67,278.69L597.17,278.57L598.67,278.51M604.10,278.77L604.28,278.79L605.78,279.01L607.28,279.27L608.78,279.58L610.28,279.94L610.46,279.99M615.52,281.50L615.71,281.56L617.20,282.08L618.70,282.62L620.20,283.17L621.70,283.74L621.89,283.81M626.57,285.59L626.76,285.67L628.25,286.23L629.75,286.78L631.25,287.32L632.75,287.85M637.62,289.42L637.80,289.48L639.30,289.91L640.80,290.33L642.30,290.72L643.80,291.09L643.98,291.13M649.04,292.21L649.23,292.24L650.72,292.51L652.22,292.76L653.72,292.99L655.22,293.21L655.41,293.23M660.84,293.87L661.02,293.89L662.52,294.04L664.02,294.17L665.52,294.30L667.02,294.41" fill="none" stroke="#f00" stroke-width="1.5"/>
<path d="M108.6,283.1 L109.9,282.9 L111.1,282.6 L112.4,282.4 L113.6,282.2 L114.9,281.9 L116.1,281.7 L117.4,281.4 L118.6,281.2 L119.9,280.9 L121.1,280.6 L122.4,280.3 L123.6,280.0 L124.9,279.6 L126.1,279.2 L127.4,278.8 L128.6,278.4 L129.9,277.9 L131.1,277.5 L132.4,277.0 L133.6,276.6 L134.9,276.1 L136.1,275.7 L137.4,275.2 L138.6,274.6 L139.9,274.1 L141.1,273.5 L142.4,272.9 L143.6,272.2 L144.9,271.5 L146.1,270.7 L147.4,270.0 L148.6,269.2 L149.9,268.3 L151.1,267.5 L152.4,266.6 L153.6,265.7 L154.9,264.8 L156.1,263.9 L157.4,263.0 L158.6,262.1 L159.9,261.2 L161.1,260.2 L162.4,259.2 L163.6,258.2 L164.9,257.2 L166.1,256.0 L167.4,254.8 L168.6,253.4 L169.9,251.9 L171.1,250.3 L172.4,248.6 L173.6,246.8 L174.9,244.9 L176.1,242.9 L177.4,240.8 L178.6,238.5 L179.9,236.1 L181.1,233.6 L182.4,230.9 L183.6,228.1 L184.9,225.0 L186.1,221.7 L187.4,218.3 L188.6,214.5 L189.9,210.6 L191.2,206.4 L192.4,201.9 L193.7,197.2 L194.9,192.3 L196.2,187.1 L197.4,181.7 L198.7,176.1 L199.9,170.3 L201.2,164.2 L202.4,158.0 L203.7,151.6 L204.9,145.1 L206.2,138.6 L207.4,132.1 L208.7,125.8 L209.9,119.7 L211.2,114.1 L212.4,108.9 L213.7,104.4 L214.9,100.7 L216.2,97.8 L217.4,95.8 L218.7,94.8 L219.9,94.7 L221.2,95.6 L222.4,97.5 L223.7,100.1 L224.9,103.5 L226.2,107.5 L227.4,112.0 L228.7,117.0 L229.9,122.1 L231.2,127.5 L232.4,132.9 L233.7,138.2 L234.9,143.4 L236.2,148.4 L237.4,153.1 L238.7,157.5 L239.9,161.6 L241.2,165.4 L242.4,168.9 L243.7,172.1 L244.9,174.9 L246.2,177.4 L247.4,179.6 L248.7,181.5 L249.9,183.2 L251.2,184.5 L252.4,185.6 L253.7,186.4 L254.9,187.0 L256.2,187.3 L257.4,187.3 L258.7,187.1 L259.9,186.6 L261.2,185.9 L262.4,184.9 L263.7,183.7 L264.9,182.1 L266.2,180.4 L267.4,178.3 L268.7,175.9 L270.0,173.3 L271.2,170.4 L272.5,167.2 L273.7,163.6 L275.0,159.8 L276.2,155.7 L277.5,151.2 L278.7,146.5 L280.0,141.5 L281.2,136.2 L282.5,130.6 L283.7,124.9 L285.0,118.9 L286.2,112.9 L287.5,106.8 L288.7,100.7 L290.0,94.7 L291.2,88.9 L292.5,83.3 L293.7,78.1 L295.0,73.3 L296.2,69.0 L297.5,65.3 L298.7,62.3 L300.0,60.0 L301.2,58.5 L302.5,57.8 L303.7,58.0 L305.0,59.1 L306.2,61.0 L307.5,63.6 L308.7,67.0 L310.0,71.1 L311.2,75.7 L312.5,80.7 L313.7,86.2 L315.0,91.9 L316.2,97.8 L317.5,103.9 L318.7,110.1 L320.0,116.3 L321.2,122.5 L322.5,128.6 L323.7,134.6 L325.0,140.3 L326.2,145.8 L327.5,151.0 L328.7,155.9 L330.0,160.6 L331.2,164.9 L332.5,168.9 L333.7,172.7 L335.0,176.1 L336.2,179.3 L337.5,182.2 L338.7,184.8 L340.0,187.2 L341.2,189.4 L342.5,191.3 L343.7,193.0 L345.0,194.5 L346.2,195.7 L347.5,196.8 L348.7,197.6 L350.0,198.2 L351.3,198.6 L352.5,198.8 L353.8,198.8 L355.0,198.6 L356.3,198.2 L357.5,197.5 L358.8,196.7 L360.0,195.7 L361.3,194.4 L362.5,192.9 L363.8,191.2 L365.0,189.4 L366.3,187.3 L367.5,185.0 L368.8,182.4 L370.0,179.7 L371.3,176.7 L372.5,173.5 L373.8,170.1 L375.0,166.6 L376.3,162.9 L377.5,159.2 L378.8,155.6 L380.0,152.0 L381.3,148.6 L382.5,145.4 L383.8,142.5 L385.0,139.8 L386.3,137.4 L387.5,135.5 L388.8,133.9 L390.0,132.9 L391.3,132.4 L392.5,132.4 L393.8,133.0 L395.0,134.1 L396.3,135.8 L397.5,138.0 L398.8,140.6 L400.0,143.6 L401.3,147.0 L402.5,150.7 L403.8,154.7 L405.0,158.9 L406.3,163.3 L407.5,167.8 L408.8,172.4 L410.0,176.9 L411.3,181.3 L412.5,185.6 L413.8,189.7 L415.0,193.6 L416.3,197.3 L417.5,200.8 L418.8,204.1 L420.0,207.2 L421.3,210.1 L422.5,212.9 L423.8,215.4 L425.0,217.8 L426.3,220.1 L427.5,222.2 L428.8,224.1 L430.1,225.9 L431.3,227.6 L432.6,229.1 L433.8,230.5 L435.1,231.8 L436.3,233.0 L437.6,234.0 L438.8,235.0 L440.1,235.8 L441.3,236.6 L442.6,237.3 L443.8,237.9 L445.1,238.4 L446.3,238.8 L447.6,239.1 L448.8,239.4 L450.1,239.6 L451.3,239.8 L452.6,239.8 L453.8,239.8 L455.1,239.8 L456.3,239.7 L457.6,239.5 L458.8,239.2 L460.1,239.0 L461.3,238.6 L462.6,238.2 L463.8,237.8 L465.1,237.3 L466.3,236.8 L467.6,236.2 L468.8,235.6 L470.1,235.1 L471.3,234.5 L472.6,233.9 L473.8,233.3 L475.1,232.7 L476.3,232.2 L477.6,231.6 L478.8,231.2 L480.1,230.7 L481.3,230.3 L482.6,229.9 L483.8,229.6 L485.1,229.4 L486.3,229.2 L487.6,229.2 L488.8,229.2 L490.1,229.3 L491.3,229.5 L492.6,229.8 L493.8,230.2 L495.1,230.7 L496.3,231.3 L497.6,232.0 L498.8,232.8 L500.1,233.7 L501.3,234.6 L502.6,235.6 L503.8,236.6 L505.1,237.7 L506.3,238.8 L507.6,239.9 L508.8,241.1 L510.1,242.2 L511.4,243.4 L512.6,244.6 L513.9,245.8 L515.1,246.9 L516.4,248.1 L517.6,249.2 L518.9,250.4 L520.1,251.5 L521.4,252.6 L522.6,253.6 L523.9,254.6 L525.1,255.6 L526.4,256.6 L527.6,257.5 L528.9,258.4 L530.1,259.3 L531.4,260.2 L532.6,261.0 L533.9,261.9 L535.1,262.7 L536.4,263.5 L537.6,264.2 L538.9,265.0 L540.1,265.7 L541.4,266.3 L542.6,266.9 L543.9,267.5 L545.1,268.0 L546.4,268.5 L547.6,268.9 L548.9,269.3 L550.1,269.7 L551.4,270.0 L552.6,270.4 L553.9,270.7 L555.1,270.9 L556.4,271.2 L557.6,271.4 L558.9,271.6 L560.1,271.8 L561.4,272.0 L562.6,272.1 L563.9,272.2 L565.1,272.2 L566.4,272.3 L567.6,272.2 L568.9,272.2 L570.1,272.1 L571.4,272.0 L572.6,271.9 L573.9,271.7 L575.1,271.5 L576.4,271.3 L577.6,271.1 L578.9,270.8 L580.1,270.5 L581.4,270.3 L582.6,270.0 L583.9,269.7 L585.1,269.4 L586.4,269.1 L587.6,268.9 L588.9,268.6 L590.2,268.4 L591.4,268.2 L592.7,268.0 L593.9,267.9 L595.2,267.9 L596.4,267.9 L597.7,267.9 L598.9,268.0 L600.2,268.1 L601.4,268.2 L602.7,268.5 L603.9,268.7 L605.2,269.0 L606.4,269.4 L607.7,269.8 L608.9,270.3 L610.2,270.8 L611.4,271.3 L612.7,271.9 L613.9,272.5 L615.2,273.1 L616.4,273.8 L617.7,274.4 L618.9,275.1 L620.2,275.7 L621.4,276.4 L622.7,277.0 L623.9,277.7 L625.2,278.3 L626.4,278.9 L627.7,279.5 L628.9,280.1 L630.2,280.6 L631.4,281.2 L632.7,281.7 L633.9,282.1 L635.2,282.6 L636.4,283.0 L637.7,283.4 L638.9,283.8 L640.2,284.1 L641.4,284.4 L642.7,284.7 L643.9,285.0 L645.2,285.2 L646.4,285.5 L647.7,285.7 L648.9,285.9 L650.2,286.1 L651.4,286.3 L652.7,286.5 L653.9,286.7 L655.2,286.9 L656.4,287.0 L657.7,287.2 L658.9,287.4 L660.2,287.5 L661.4,287.7 L662.7,287.9 L663.9,288.0 L665.2,288.2 L666.4,288.3 L667.7,288.5 L668.9,288.6 L670.2,288.8" fill="none" stroke="#f00" stroke-width="2" stroke-linejoin="round"/>
</g>
<rect x="108.60" y="11.10" width="561.60" height="294.90" fill="none" stroke="#000" stroke-width="1.8"/><path d="M108.60 306.00v6.0M108.60 11.10v5.5M146.04 306.00v10.5M146.04 11.10v10M183.48 306.00v6.0M183.48 11.10v5.5M220.92 306.00v10.5M220.92 11.10v10M258.36 306.00v6.0M258.36 11.10v5.5M295.80 306.00v10.5M295.80 11.10v10M333.24 306.00v6.0M333.24 11.10v5.5M370.68 306.00v10.5M370.68 11.10v10M408.12 306.00v6.0M408.12 11.10v5.5M445.56 306.00v10.5M445.56 11.10v10M483.00 306.00v6.0M483.00 11.10v5.5M520.44 306.00v10.5M520.44 11.10v10M557.88 306.00v6.0M557.88 11.10v5.5M595.32 306.00v10.5M595.32 11.10v10M632.76 306.00v6.0M632.76 11.10v5.5M670.20 306.00v10.5M670.20 11.10v10M108.60 306.00h-10M670.20 306.00h-10M108.60 256.85h-5.5M670.20 256.85h-5.5M108.60 207.70h-10M670.20 207.70h-10M108.60 158.55h-5.5M670.20 158.55h-5.5M108.60 109.40h-10M670.20 109.40h-10M108.60 60.25h-5.5M670.20 60.25h-5.5M108.60 11.10h-10M670.20 11.10h-10" stroke="#000" stroke-width="1.8" fill="none"/>
<text x="146.04" y="338.4" text-anchor="middle" class="tl">480</text><text x="220.92" y="338.4" text-anchor="middle" class="tl">500</text><text x="295.80" y="338.4" text-anchor="middle" class="tl">520</text><text x="370.68" y="338.4" text-anchor="middle" class="tl">540</text><text x="445.56" y="338.4" text-anchor="middle" class="tl">560</text><text x="520.44" y="338.4" text-anchor="middle" class="tl">580</text><text x="595.32" y="338.4" text-anchor="middle" class="tl">600</text><text x="670.20" y="338.4" text-anchor="middle" class="tl">620</text><text x="93" y="313.00" text-anchor="end" class="tl">0</text><text x="93" y="215.90" text-anchor="end" class="tl">2x10<tspan class="sup" dy="-10.8">4</tspan></text><text x="93" y="117.60" text-anchor="end" class="tl">4x10<tspan class="sup" dy="-10.8">4</tspan></text><text x="93" y="19.30" text-anchor="end" class="tl">6x10<tspan class="sup" dy="-10.8">4</tspan></text><text x="390" y="365.5" text-anchor="middle" class="at">Wavelength (nm)</text><text transform="translate(17.5,143.5) rotate(-90)" text-anchor="middle" class="at">Intensity (a.u.)</text><text x="192.7" y="91.2" text-anchor="middle" class="pk">1</text><text x="277.2" y="53.2" text-anchor="middle" class="pk">2</text><text x="393.1" y="98.5" text-anchor="middle" class="pk">3</text><text x="492.4" y="194.8" text-anchor="middle" class="pk">4</text><text x="602.6" y="227.2" text-anchor="middle" class="pk">5</text><path d="M431 47.8H469.5" stroke="#000" stroke-width="2.4"/><path d="M431 68.3H469.5" stroke="#f00" stroke-width="1.6"/><text x="473" y="52.8" class="lg" textLength="152.3" lengthAdjust="spacingAndGlyphs">Measured luminescence</text><text x="473" y="73.8" class="lg">Multi-Voigt fit</text>
</svg>
</body></html>
